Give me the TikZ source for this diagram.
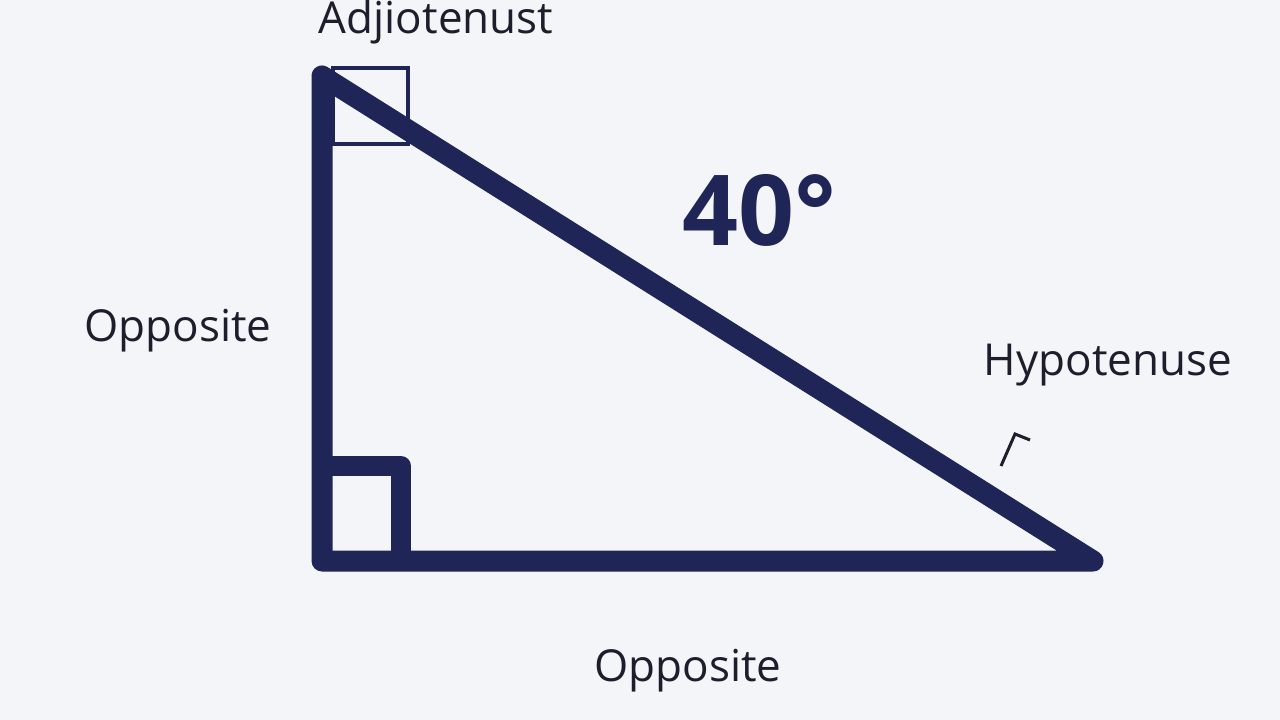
\documentclass[tikz,border=0pt]{standalone}
\usepackage{fontspec}
\setmainfont{Open Sans}
\definecolor{bg}{HTML}{F3F5F9}
\definecolor{navy}{HTML}{1F2657}
\definecolor{ink}{HTML}{1C1E2B}
\tikzset{
  leg/.style={draw=navy, line width=21pt, line join=round, line cap=round},
  thinsq/.style={draw=navy, line width=4pt},
  thicksq/.style={draw=navy, line width=20pt, line join=round},
  lbl/.style={text=ink, font=\fontsize{44}{50}\selectfont, anchor=base, inner sep=0pt},
  deg/.style={text=navy, font=\fontsize{98}{110}\selectfont\bfseries, anchor=base, inner sep=0pt},
  tick/.style={draw=ink, line width=3pt, line join=miter}
}
\begin{document}
\begin{tikzpicture}[x=1pt,y=-1pt]
\fill[bg] (0,0) rectangle (1280,720);
\useasboundingbox (0,0) rectangle (1280,720);
% vertices
\coordinate (A) at (322,76);
\coordinate (C) at (322,561);
\coordinate (B) at (1093,561);
% right-angle markers
\draw[thinsq] (333,68) rectangle (408,144);
\draw[thicksq] (322,466) -- (401,466) -- (401,561);
% triangle
\draw[leg] (A) -- (C) -- (B) -- cycle;
% small tick mark
\coordinate (t1) at (1001,466);
\coordinate (t2) at (1015,434);
\coordinate (t3) at (1030,440);
\draw[tick] (t1) -- (t2) -- (t3);
% labels
\node[lbl] (adj) at (436,33) {Adjiotenust};
\node[lbl] (oppL) at (178,341) {Opposite};
\node[lbl] (hyp) at (1108,375) {Hypotenuse};
\node[lbl] (oppB) at (688,681) {Opposite};
\node[deg] (ang) at (759,245) {40°};
\end{tikzpicture}
\end{document}
